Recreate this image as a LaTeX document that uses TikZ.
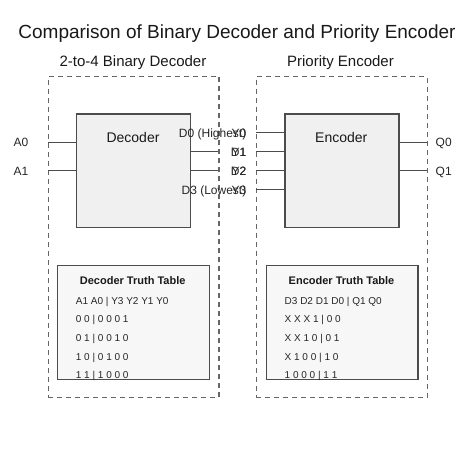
\documentclass[tikz,border=0pt]{standalone}
\usepackage{fontspec}
\setmainfont{Liberation Sans}
\begin{document}
\begin{tikzpicture}[x=1pt,y=-1pt,
  dashbox/.style={draw=black!60, dash pattern=on 5pt off 4pt, line width=1.3pt},
  block/.style={draw=black!70, fill=black!6, line width=1.2pt, inner sep=0pt, anchor=north west},
  tablebox/.style={draw=black!70, fill=black!3, line width=1.2pt, inner sep=0pt, anchor=north west},
  wire/.style={draw=black!70, line width=1.2pt},
  ttl/.style={font=\fontsize{19}{21}\selectfont, text=black!90, inner sep=0pt, anchor=base},
  sub/.style={font=\fontsize{15}{17}\selectfont, text=black!90, inner sep=0pt, anchor=base},
  blk/.style={font=\fontsize{14}{16}\selectfont, text=black!90, inner sep=0pt, anchor=base},
  lbl/.style={font=\fontsize{12}{14}\selectfont, text=black!85, inner sep=0pt},
  thead/.style={font=\bfseries\fontsize{11}{13}\selectfont, text=black!90, inner sep=0pt, anchor=base},
  trow/.style={font=\fontsize{10}{12}\selectfont, text=black!85, inner sep=0pt, anchor=base west}]
\useasboundingbox (0,0) rectangle (474,474);

% titles
\node[ttl] (title) at (237,38) {Comparison of Binary Decoder and Priority Encoder};
\node[sub] (subdec) at (133,66.5) {2-to-4 Binary Decoder};
\node[sub] (subenc) at (340.5,66.5) {Priority Encoder};

% dashed frames
\node[dashbox, inner sep=0pt, anchor=north west, minimum width=170.6pt, minimum height=321pt] (fdec) at (47.7,76) {};
\node[dashbox, inner sep=0pt, anchor=north west, minimum width=171pt, minimum height=321pt] (fenc) at (255.7,76) {};

% blocks
\node[block, minimum width=114.3pt, minimum height=113.7pt] (dec) at (75.7,113.3) {};
\node[block, minimum width=114pt, minimum height=113.7pt] (enc) at (284.3,113.3) {};
\node[blk] (declbl) at (133,142.7) {Decoder};
\node[blk] (enclbl) at (341.3,142.7) {Encoder};

% decoder inputs
\coordinate (a0e) at (47.7,142.3);
\coordinate (a1e) at (47.7,170.7);
\draw[wire] (a0e) -- (a0e -| dec.west);
\draw[wire] (a1e) -- (a1e -| dec.west);
\node[lbl, anchor=base east] (la0) at (28.5,146.7) {A0};
\node[lbl, anchor=base east] (la1) at (28.5,175.3) {A1};

% decoder outputs
\coordinate (y1e) at (218.3,151.7);
\coordinate (y2e) at (218.3,170.7);
\draw[wire] (y1e -| dec.east) -- (y1e);
\draw[wire] (y2e -| dec.east) -- (y2e);
\node[lbl, anchor=base east] (ly0) at (246.5,137) {Y0};
\node[lbl, anchor=base east] (ly1) at (246.5,156.3) {Y1};
\node[lbl, anchor=base east] (ly2) at (246.5,175.3) {Y2};
\node[lbl, anchor=base east] (ly3) at (246.5,194) {Y3};

% encoder inputs
\coordinate (d0e) at (255.7,132.3);
\coordinate (d1e) at (255.7,151.7);
\coordinate (d2e) at (255.7,170.7);
\coordinate (d3e) at (255.7,189.3);
\draw[wire] (d0e) -- (d0e -| enc.west);
\draw[wire] (d1e) -- (d1e -| enc.west);
\draw[wire] (d2e) -- (d2e -| enc.west);
\draw[wire] (d3e) -- (d3e -| enc.west);
\node[lbl, anchor=base east] (ld0) at (246.5,137) {D0 (Highest)};
\node[lbl, anchor=base east] (ld1) at (246.5,156.3) {D1};
\node[lbl, anchor=base east] (ld2) at (246.5,175.3) {D2};
\node[lbl, anchor=base east] (ld3) at (246.5,194) {D3 (Lowest)};

% encoder outputs
\coordinate (q0e) at (426.7,142.3);
\coordinate (q1e) at (426.7,170.7);
\draw[wire] (q0e -| enc.east) -- (q0e);
\draw[wire] (q1e -| enc.east) -- (q1e);
\node[lbl, anchor=base west] (lq0) at (435.5,146.7) {Q0};
\node[lbl, anchor=base west] (lq1) at (435.5,175.3) {Q1};

% truth tables
\node[tablebox, minimum width=152pt, minimum height=114pt] (tdec) at (56.7,265) {};
\node[tablebox, minimum width=151.6pt, minimum height=114pt] (tenc) at (265.7,265) {};

\node[thead] (tdech) at (132.7,284.5) {Decoder Truth Table};
\node[trow] (td0) at (75.7,304.3) {A1 A0 | Y3 Y2 Y1 Y0};
\node[trow] (td1) at (75.7,322.7) {0 0 | 0 0 0 1};
\node[trow] (td2) at (75.7,341.3) {0 1 | 0 0 1 0};
\node[trow] (td3) at (75.7,360) {1 0 | 0 1 0 0};
\node[trow] (td4) at (75.7,378.7) {1 1 | 1 0 0 0};

\node[thead] (tench) at (341.5,284.5) {Encoder Truth Table};
\node[trow] (te0) at (284.5,304.3) {D3 D2 D1 D0 | Q1 Q0};
\node[trow] (te1) at (284.5,322.7) {X X X 1 | 0 0};
\node[trow] (te2) at (284.5,341.3) {X X 1 0 | 0 1};
\node[trow] (te3) at (284.5,360) {X 1 0 0 | 1 0};
\node[trow] (te4) at (284.5,378.7) {1 0 0 0 | 1 1};
\end{tikzpicture}
\end{document}
